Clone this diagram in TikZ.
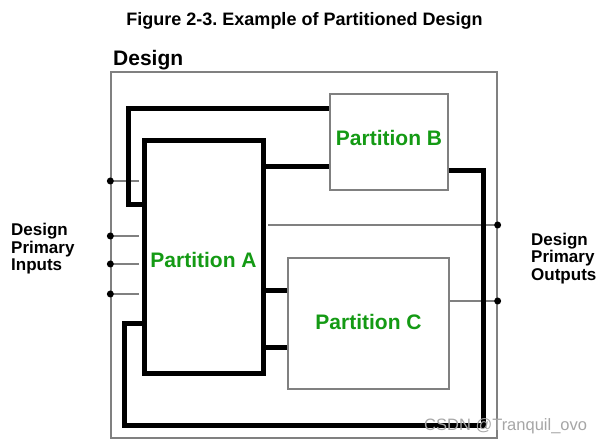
\documentclass[tikz,border=0pt]{standalone}
\usepackage{fontspec}
\setmainfont{Liberation Sans}
\usetikzlibrary{positioning}
\definecolor{partGreen}{HTML}{149A14}
\definecolor{edgeGray}{HTML}{808080}
\frenchspacing

\begin{document}
\begin{tikzpicture}[x=1pt, y=-1pt,
  part/.style={draw=edgeGray, line width=1.3pt, font=\fontsize{21}{24}\selectfont\bfseries, text=partGreen, inner sep=0pt},
  wire/.style={line width=5pt},
  sig/.style={draw=edgeGray, line width=1.3pt},
  lbl/.style={font=\fontsize{17}{17.5}\selectfont\bfseries, align=left, inner sep=0pt, anchor=north west}
]
\useasboundingbox (0,0) rectangle (603,443);

\node[font=\fontsize{18}{20}\selectfont\bfseries, anchor=base] (title) at (304.5,25.7) {Figure 2-3. Example of Partitioned Design};
\node[draw=edgeGray, line width=1.3pt, minimum width=386pt, minimum height=366pt] (D) at (304,255) {};
\node[font=\fontsize{21}{24}\selectfont\bfseries, anchor=base west, inner sep=0pt] (dname) at (113,66) {Design};

\node[part, draw=black, line width=5pt, minimum width=119pt, minimum height=233.5pt, text height=20pt] (A) at (203.5,257.25) {Partition A};
\node[part, minimum width=118pt, minimum height=96pt, text depth=8pt] (B) at (389,142) {Partition B};
\node[part, minimum width=161pt, minimum height=131pt, text depth=3.6pt] (C) at (368.5,323.5) {Partition C};

% primary inputs and outputs
\foreach \y in {181,236,264,294}
  \draw[sig, shorten >=2.5pt] (D.west |- 0,\y) -- (A.west |- 0,\y);
\draw[sig, shorten <=2.5pt] (A.east |- 0,225) -- (D.east |- 0,225);
\draw[sig] (C.east |- 0,301) -- (D.east |- 0,301);

% thick nets between partitions
\draw[wire] (A.west |- 0,204.5) -| (128,109) -- (B.west |- 0,109);
\draw[wire] (A.east |- 0,166.5) -- (B.west |- 0,166.5);
\draw[wire] (B.east |- 0,170.7) -| (483.3,425.5) -| (124.5,324) -- (A.west |- 0,324);
\draw[wire] (A.east |- 0,290.7) -- (C.west |- 0,290.7);
\draw[wire] (A.east |- 0,347.3) -- (C.west |- 0,347.3);

\foreach \y in {181,236,264,294}
  \fill (D.west |- 0,\y) circle (3.5);
\fill (D.east |- 0,225) circle (3.5);
\fill (D.east |- 0,301) circle (3.5);

\node[lbl] (inputs) at (11,223.3) {Design\\Primary\\Inputs};
\node[lbl] (outputs) at (531,232.7) {Design\\Primary\\Outputs};

\node[font=\fontsize{16.5}{18}\selectfont, text=black!35, anchor=base west, inner sep=0pt] (mark) at (424,431) {CSDN @Tranquil\_ovo};
\end{tikzpicture}
\end{document}
